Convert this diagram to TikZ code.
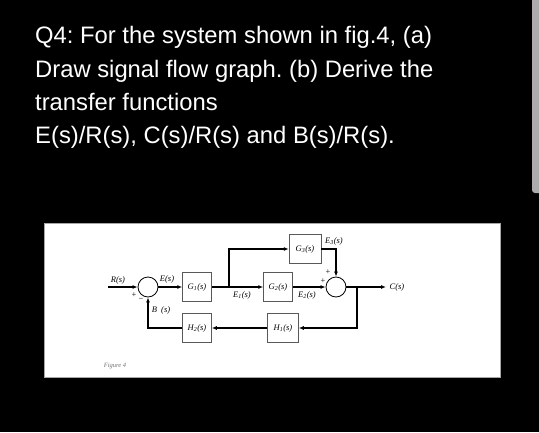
\documentclass[tikz,border=0pt]{standalone}
\usepackage{fontspec}
\setmainfont{Liberation Sans}
\newfontfamily\figfont{Liberation Serif}
\usetikzlibrary{arrows.meta}
\frenchspacing

\begin{document}
\begin{tikzpicture}[x=1pt,y=-1pt,
  qline/.style={anchor=base west,inner sep=0pt,text=white,font=\fontsize{23.8}{28}\selectfont},
  block/.style={draw=black!65,line width=0.5pt,minimum width=29pt,minimum height=29pt,inner sep=0pt,font=\figfont\itshape\fontsize{8.5}{9}\selectfont},
  sumnode/.style={circle,draw,line width=0.8pt,minimum size=20pt,inner sep=0pt},
  lab/.style={inner sep=0pt,font=\figfont\itshape\fontsize{8.5}{9}\selectfont},
  sig/.style={line width=1.2pt,-{Latex[length=5pt,width=4pt]}},
  wire/.style={line width=1.2pt}]
\useasboundingbox (0,0) rectangle (539,432);
\fill[black] (0,0) rectangle (539,432);
\fill[gray!65,rounded corners=3pt] (532,-10) rectangle (545,193);
\filldraw[fill=white,draw=gray!70,line width=0.6pt] (44,223) rectangle (500,377);
% question text
\node[qline] (q1) at (35,43) {Q4: For the system shown in fig.4, (a)};
\node[qline] (q2) at (35,77) {Draw signal flow graph. (b) Derive the};
\node[qline] (q3) at (35,110) {transfer functions};
\node[qline] (q4) at (35,143) {E(s)/R(s), C(s)/R(s) and B(s)/R(s).};
% blocks
\node[sumnode] (s1) at (148,287) {};
\node[block] (g1) at (197,287) {G\textsubscript{1}(s)};
\node[block] (g2) at (278,287) {G\textsubscript{2}(s)};
\node[block,minimum width=32pt] (g3) at (305,249) {G\textsubscript{3}(s)};
\node[sumnode] (s2) at (336,287) {};
\node[block] (h2) at (197,328) {H\textsubscript{2}(s)};
\node[block,minimum width=31pt] (h1) at (283,328) {H\textsubscript{1}(s)};
\coordinate (in) at (108,287);
\coordinate (out) at (386,287);
\coordinate (b1) at (229,287);
\coordinate (b2) at (357,287);
% signals
\draw[sig] (in) -- (s1);
\draw[sig] (s1) -- (g1);
\draw[wire] (g1) -- (b1);
\draw[sig] (b1) -- (g2);
\draw[sig] (b1) |- (g3);
\draw[sig] (g2) -- (s2);
\draw[sig] (g3) -| (s2);
\draw[sig] (s2) -- (out);
\draw[sig] (b2) |- (h1);
\draw[sig] (h1) -- (h2);
\draw[sig] (h2) -| (s1);
% labels
\node[lab] (lr) at (118,280) {R(s)};
\node[lab] (le) at (167,279) {E(s)};
\node[lab] (le1) at (242,295) {E\textsubscript{1}(s)};
\node[lab] (le2) at (307,295) {E\textsubscript{2}(s)};
\node[lab] (le3) at (334,241) {E\textsubscript{3}(s)};
\node[lab] (lc) at (397,287) {C(s)};
\node[lab] (lb) at (161,310) {B\ \ (s)};
\node[lab,font=\figfont\fontsize{8.5}{9}\selectfont] (p1) at (134,295) {+};
\node[lab,font=\figfont\fontsize{8.5}{9}\selectfont] (m1) at (141,300) {\textminus};
\node[lab,font=\figfont\fontsize{8.5}{9}\selectfont] (p2) at (328,272) {+};
\node[lab,font=\figfont\fontsize{8.5}{9}\selectfont] (p3) at (323,281) {+};
\node[lab,text=black!55,font=\figfont\itshape\fontsize{6.5}{7}\selectfont] (fig) at (115,366) {Figure 4};
\end{tikzpicture}
\end{document}
